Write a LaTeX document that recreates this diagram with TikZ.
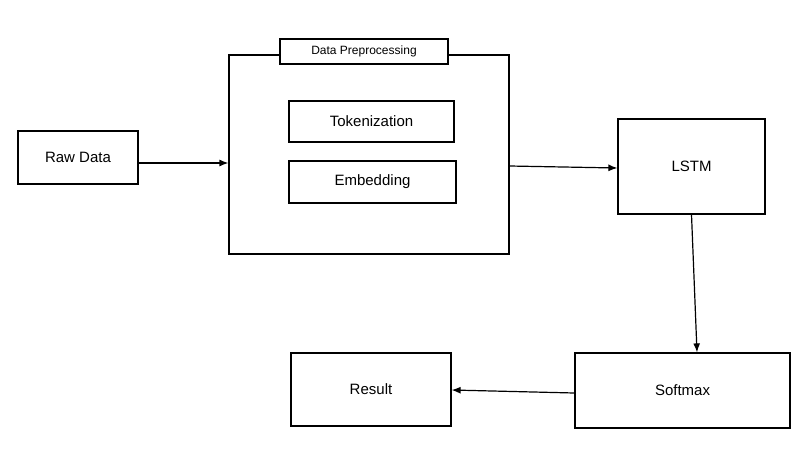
\documentclass[tikz,border=0pt]{standalone}
\usepackage{fontspec}
\setmainfont{Liberation Sans}
\usetikzlibrary{arrows.meta}
\begin{document}
\begin{tikzpicture}[x=1pt,y=-1pt,line width=1.2pt,
  box/.style={draw,rectangle,inner sep=0pt,font=\fontsize{15}{17}\selectfont},
  flow/.style={-{Latex[length=9pt,width=7pt]}}]
  \useasboundingbox (0,0) rectangle (810,466);

  \node[box,minimum width=120,minimum height=53] (raw)   at (78,157.5)  {Raw Data};
  \node[box,minimum width=280,minimum height=199] (prep) at (369,154.5) {};
  \node[box,fill=white,minimum width=168,minimum height=25,font=\fontsize{12}{14}\selectfont] (title) at (364,51.5) {Data Preprocessing};
  \node[box,minimum width=165,minimum height=41] (tok)   at (371.5,121.5) {Tokenization};
  \node[box,minimum width=167,minimum height=42] (emb)   at (372.5,182)   {Embedding};
  \node[box,minimum width=147,minimum height=95] (lstm)  at (691.5,166.5) {LSTM};
  \node[box,minimum width=215,minimum height=75] (soft)  at (682.5,390.5) {Softmax};
  \node[box,minimum width=160,minimum height=73] (res)   at (371,389.5)   {Result};

  \draw[flow] ([yshift=-5.5]raw.east) -- ([yshift=-8.5]prep.west);
  \draw[flow] ([yshift=-11.5]prep.east) -- ([yshift=-1.5]lstm.west);
  \draw[flow] (lstm.south) -- ([xshift=14.5]soft.north);
  \draw[flow] ([yshift=-2.5]soft.west) -- ([yshift=-0.5]res.east);
\end{tikzpicture}
\end{document}
